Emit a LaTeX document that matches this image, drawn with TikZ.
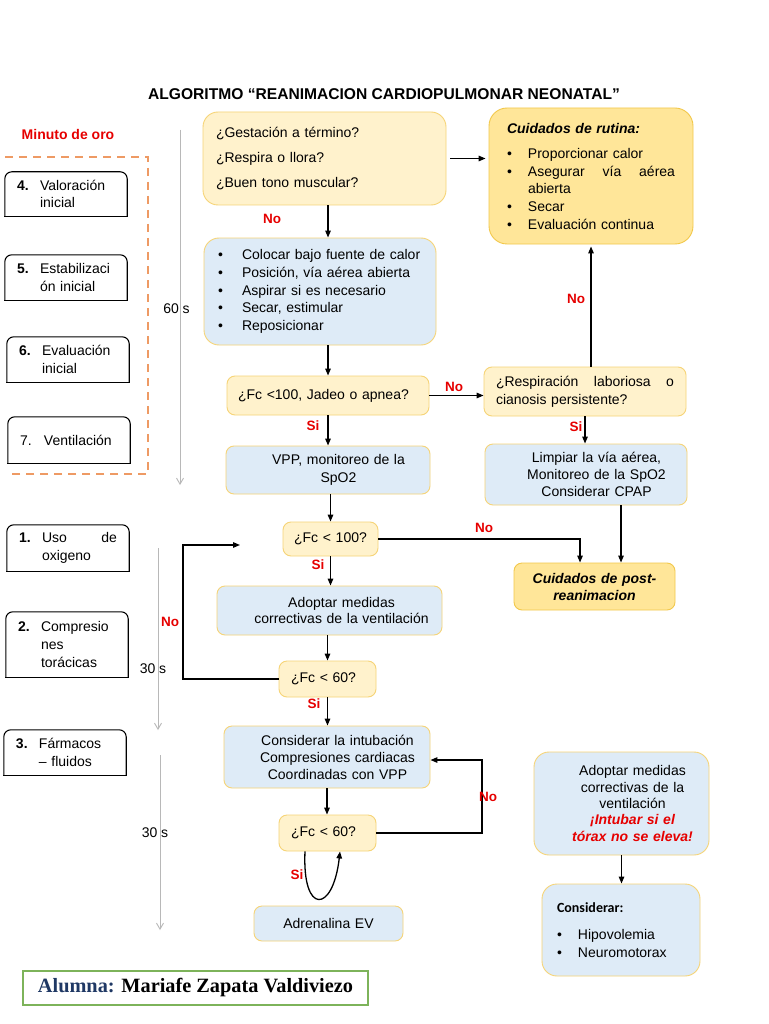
\documentclass[tikz,border=0pt]{standalone}
\usepackage{fontspec}
\setmainfont{Liberation Sans}
\newfontfamily\serifb{Liberation Serif}
\newfontfamily\carl{Carlito}
\usetikzlibrary{arrows.meta}
\setlength\parindent{0pt}
\definecolor{yfill}{HTML}{FFF2CC}
\definecolor{yline}{HTML}{F6D477}
\definecolor{gfill}{HTML}{FFE699}
\definecolor{gline}{HTML}{F2C84B}
\definecolor{bfill}{HTML}{DEEBF7}
\definecolor{redl}{HTML}{E60000}
\definecolor{orl}{HTML}{EE9A64}
\definecolor{navyc}{HTML}{1F3864}
\definecolor{grn}{HTML}{7DB35A}
\newcommand\fs{\fontsize{14}{17.6}\selectfont}
\newcommand\bul{\makebox[21pt][l]{\textbullet}}
\newcommand\bulb{\makebox[27pt][l]{\hspace*{3pt}\textbullet}}
\newcommand\nb[1]{\makebox[23pt][l]{\textbf{#1}}}
\newcommand\nr[1]{\makebox[24pt][l]{#1}}
\newcommand\ind{\hspace*{21pt}}
\newcommand\bx[7]{\node[#6,minimum width={(#4-#2)*1pt},minimum height={(#5-#3)*1pt}] (#1) at ({(#2+#4)/2},{(#3+#5)/2}) {#7};}
\newcommand\lbx[6]{\bx{#1}{#2}{#3}{#4}{#5}{lbox}{#6}%
\draw[lbord,rounded corners=7pt] (#1.south west) -- (#1.north west) -- (#1.north east) -- (#1.south east);%
\draw[lbord] (#1.south west) -- (#1.south east);}
\begin{document}
\begin{tikzpicture}[x=1pt,y=-1pt,font=\fs,inner sep=0pt,
  yb/.style={draw=yline,fill=yfill,line width=0.9pt,rounded corners=15pt},
  ybs/.style={yb,rounded corners=8pt},
  gb/.style={draw=gline,fill=gfill,line width=0.9pt,rounded corners=18pt},
  gbs/.style={gb,rounded corners=8pt},
  bb/.style={draw=yline,fill=bfill,line width=0.9pt,rounded corners=15pt},
  bbs/.style={bb,rounded corners=8pt},
  lbox/.style={fill=white,text width=98pt,align=left},
  lbord/.style={line width=1.1pt,line cap=rect},
  arr/.style={line width=1.3pt,-{Triangle[length=7pt,width=5.5pt]}},
  tline/.style={draw=black!28,line width=0.9pt,-{Straight Barb[length=6pt,width=7pt]}},
  lab/.style={text=redl,font=\fontsize{13.5}{16}\selectfont\bfseries},
  tlab/.style={font=\fs}]
\useasboundingbox (0,0) rectangle (768,1024);
\fill[white] (0,0) rectangle (768,1024);

% title
\node[font=\bfseries\fontsize{15.6}{18}\selectfont] (T) at (384,94) {ALGORITMO “REANIMACION CARDIOPULMONAR NEONATAL”};
\node[lab,font=\fontsize{14}{17}\selectfont\bfseries] (MO) at (68,134) {Minuto de oro};

% orange dashed frame
\draw[orl,line width=1.2pt,dash pattern=on 8pt off 6pt] (5,157) -- (148,157) -- (148,474) -- (10,474);

% time lines
\node[tlab] (t1) at (176.5,309) {60 s};
\draw[tline] (180,130) -- (180,485);
\node[tlab] (t2) at (153,669) {30 s};
\draw[tline] (158,548) -- (158,730);
\node[tlab] (t3) at (155,833) {30 s};
\draw[tline] (160,755) -- (160,930);

% left boxes
\lbx{L4}{5}{172}{127}{216}{\nb{4.}Valoración\\\hspace*{23pt}inicial}
\lbx{L5}{5}{255}{127}{300}{\nb{5.}Estabilizaci\\\hspace*{23pt}ón inicial}
\lbx{L6}{7}{337}{129}{382}{\nb{6.}Evaluación\\\hspace*{23pt}inicial}
\lbx{L7}{8}{417}{130}{463}{\nr{7.}Ventilación}
\lbx{L1}{7}{525}{129}{571}{\nb{1.}Uso\hfill de\\\hspace*{23pt}oxigeno}
\lbx{L2}{6}{612}{128}{677}{\nb{2.}Compresio\\\hspace*{23pt}nes\\\hspace*{23pt}torácicas}
\lbx{L3}{4}{730}{126}{775}{\nb{3.}Fármacos\\\hspace*{23pt}– fluidos}

% main flow boxes
\bx{A}{203}{112}{446}{205}{yb,text width=217pt,align=left}{¿Gestación a término?\\[7.5pt]¿Respira o llora?\\[7.5pt]¿Buen tono muscular?}
\bx{R}{489}{108}{693}{244}{gb,text width=168pt,align=left}{\textbf{\textit{Cuidados de rutina:}}\\[8pt]\bul Proporcionar calor\\\bul Asegurar\hfill vía\hfill aérea\\\hspace*{21pt}abierta\\\bul Secar\\\bul Evaluación continua}
\bx{B}{204}{238}{436}{345}{bb,text width=210pt,align=left,font=\fontsize{14}{17.8}\selectfont}{\bulb Colocar bajo fuente de calor\\\bulb Posición, vía aérea abierta\\\bulb Aspirar si es necesario\\\bulb Secar, estimular\\\bulb Reposicionar}
\bx{C}{227}{376}{429}{415}{ybs,text width=180pt,align=left}{¿Fc <100, Jadeo o apnea?}
\bx{D}{484}{367}{686}{416}{ybs,text width=178pt,align=left}{¿Respiración\hfill laboriosa\hfill o\\cianosis persistente?}
\bx{E}{226}{446}{430}{494}{bbs,text width=200pt,align=center}{\ind VPP, monitoreo de la\\\ind SpO2}
\bx{F}{485}{444}{687}{505}{bbs,text width=198pt,align=center,font=\fontsize{14}{17}\selectfont}{\ind Limpiar la vía aérea,\\\ind Monitoreo de la SpO2\\\ind Considerar CPAP}
\bx{G}{283}{522}{378}{556}{ybs,text width=90pt,align=center}{¿Fc < 100?}
\bx{H}{514}{563}{675}{610}{gbs,text width=158pt,align=center,font=\fontsize{14}{17}\selectfont\bfseries\itshape}{Cuidados de post-\\reanimacion}
\bx{I}{217}{586}{442}{635}{bbs,text width=220pt,align=center,font=\fontsize{14}{16.5}\selectfont}{\hspace*{24pt}Adoptar medidas\\\hspace*{24pt}correctivas de la ventilación}
\bx{J}{279}{661}{376}{697}{ybs,text width=73pt,align=left}{¿Fc < 60?}
\bx{K}{224}{726}{430}{788}{bbs,text width=200pt,align=center,font=\fontsize{14}{17}\selectfont}{\ind Considerar la intubación\\\ind Compresiones cardiacas\\\ind Coordinadas con VPP}
\bx{L}{279}{815}{376}{851}{ybs,text width=73pt,align=left}{¿Fc < 60?}
\bx{M}{254}{906}{403}{941}{bbs,text width=140pt,align=center}{Adrenalina EV}
\bx{N}{534}{752}{709}{855}{bb,text width=170pt,align=center,font=\fontsize{14}{16.3}\selectfont}{\hspace*{22pt}Adoptar medidas\\\hspace*{22pt}correctivas de la\\\hspace*{22pt}ventilación\\\hspace*{22pt}{\color{redl}\bfseries\itshape ¡Intubar si el}\\\hspace*{22pt}{\color{redl}\bfseries\itshape tórax no se eleva!}}
\bx{O}{542}{884}{700}{976}{bb,text width=128pt,align=left}{{\carl\bfseries\fontsize{14}{17}\selectfont Considerar:}\\[10pt]\bul Hipovolemia\\\bul Neuromotorax}

% student box
\bx{AL}{23}{971}{368}{1005}{draw=grn,fill=white,line width=1.1pt,font=\serifb\bfseries\fontsize{20.3}{23}\selectfont}{{\color{navyc}Alumna:} Mariafe Zapata Valdiviezo}

% connectors
\draw[arr] ([xshift=4pt]A.east) -- ([xshift=-3pt]A.east -| R.west);
\draw[arr] ([xshift=3.5pt]A.south) -- ([xshift=3.5pt]A.south |- B.north);
\draw[arr] (B.south -| C.north) -- (C.north);
\draw[arr] (C.east) -- (C.east -| D.west);
\draw[arr] (D.north -| R.south) -- ([yshift=-2pt]R.south);
\draw[arr] (C.south) -- (E.north);
\draw[arr] (D.south) -- (D.south |- F.north);
\draw[arr] (E.south -| G.north) -- (G.north);
\draw[arr] (G.east) -| ([xshift=-14.5pt]H.north);
\draw[arr] ([xshift=35pt]F.south) -- ([xshift=35pt]F.south |- H.north);
\draw[arr] (G.south) -- (G.south |- I.north);
\draw[arr] (I.south -| J.north) -- (J.north);
\coordinate (lc) at (183,545);
\coordinate (le) at (240,545);
\draw[arr] (J.west) -| (lc) -- (le);
\draw[arr] (J.south) -- (J.south |- K.north);
\draw[arr] (K.south) -- (K.south |- L.north);
\coordinate (nc) at (482,760);
\draw[arr] (L.east) -| (nc) -- (nc -| K.east);
\draw[arr] ([xshift=-22.5pt]L.south) .. controls +(-3,64) and +(-7,62) .. ([xshift=12.5pt]L.south);
\draw[arr] (N.south) -- (N.south |- O.north);

% labels
\node[lab] (n1) at (272,219) {No};
\node[lab] (n2) at (454,387) {No};
\node[lab] (n3) at (576,299) {No};
\node[lab] (n4) at (484,528) {No};
\node[lab] (n5) at (170,622) {No};
\node[lab] (n6) at (488,797) {No};
\node[lab] (s1) at (313,426) {Si};
\node[lab] (s2) at (576,427) {Si};
\node[lab] (s3) at (318,565) {Si};
\node[lab] (s4) at (314,704) {Si};
\node[lab] (s5) at (297,875) {Si};
\end{tikzpicture}
\end{document}
